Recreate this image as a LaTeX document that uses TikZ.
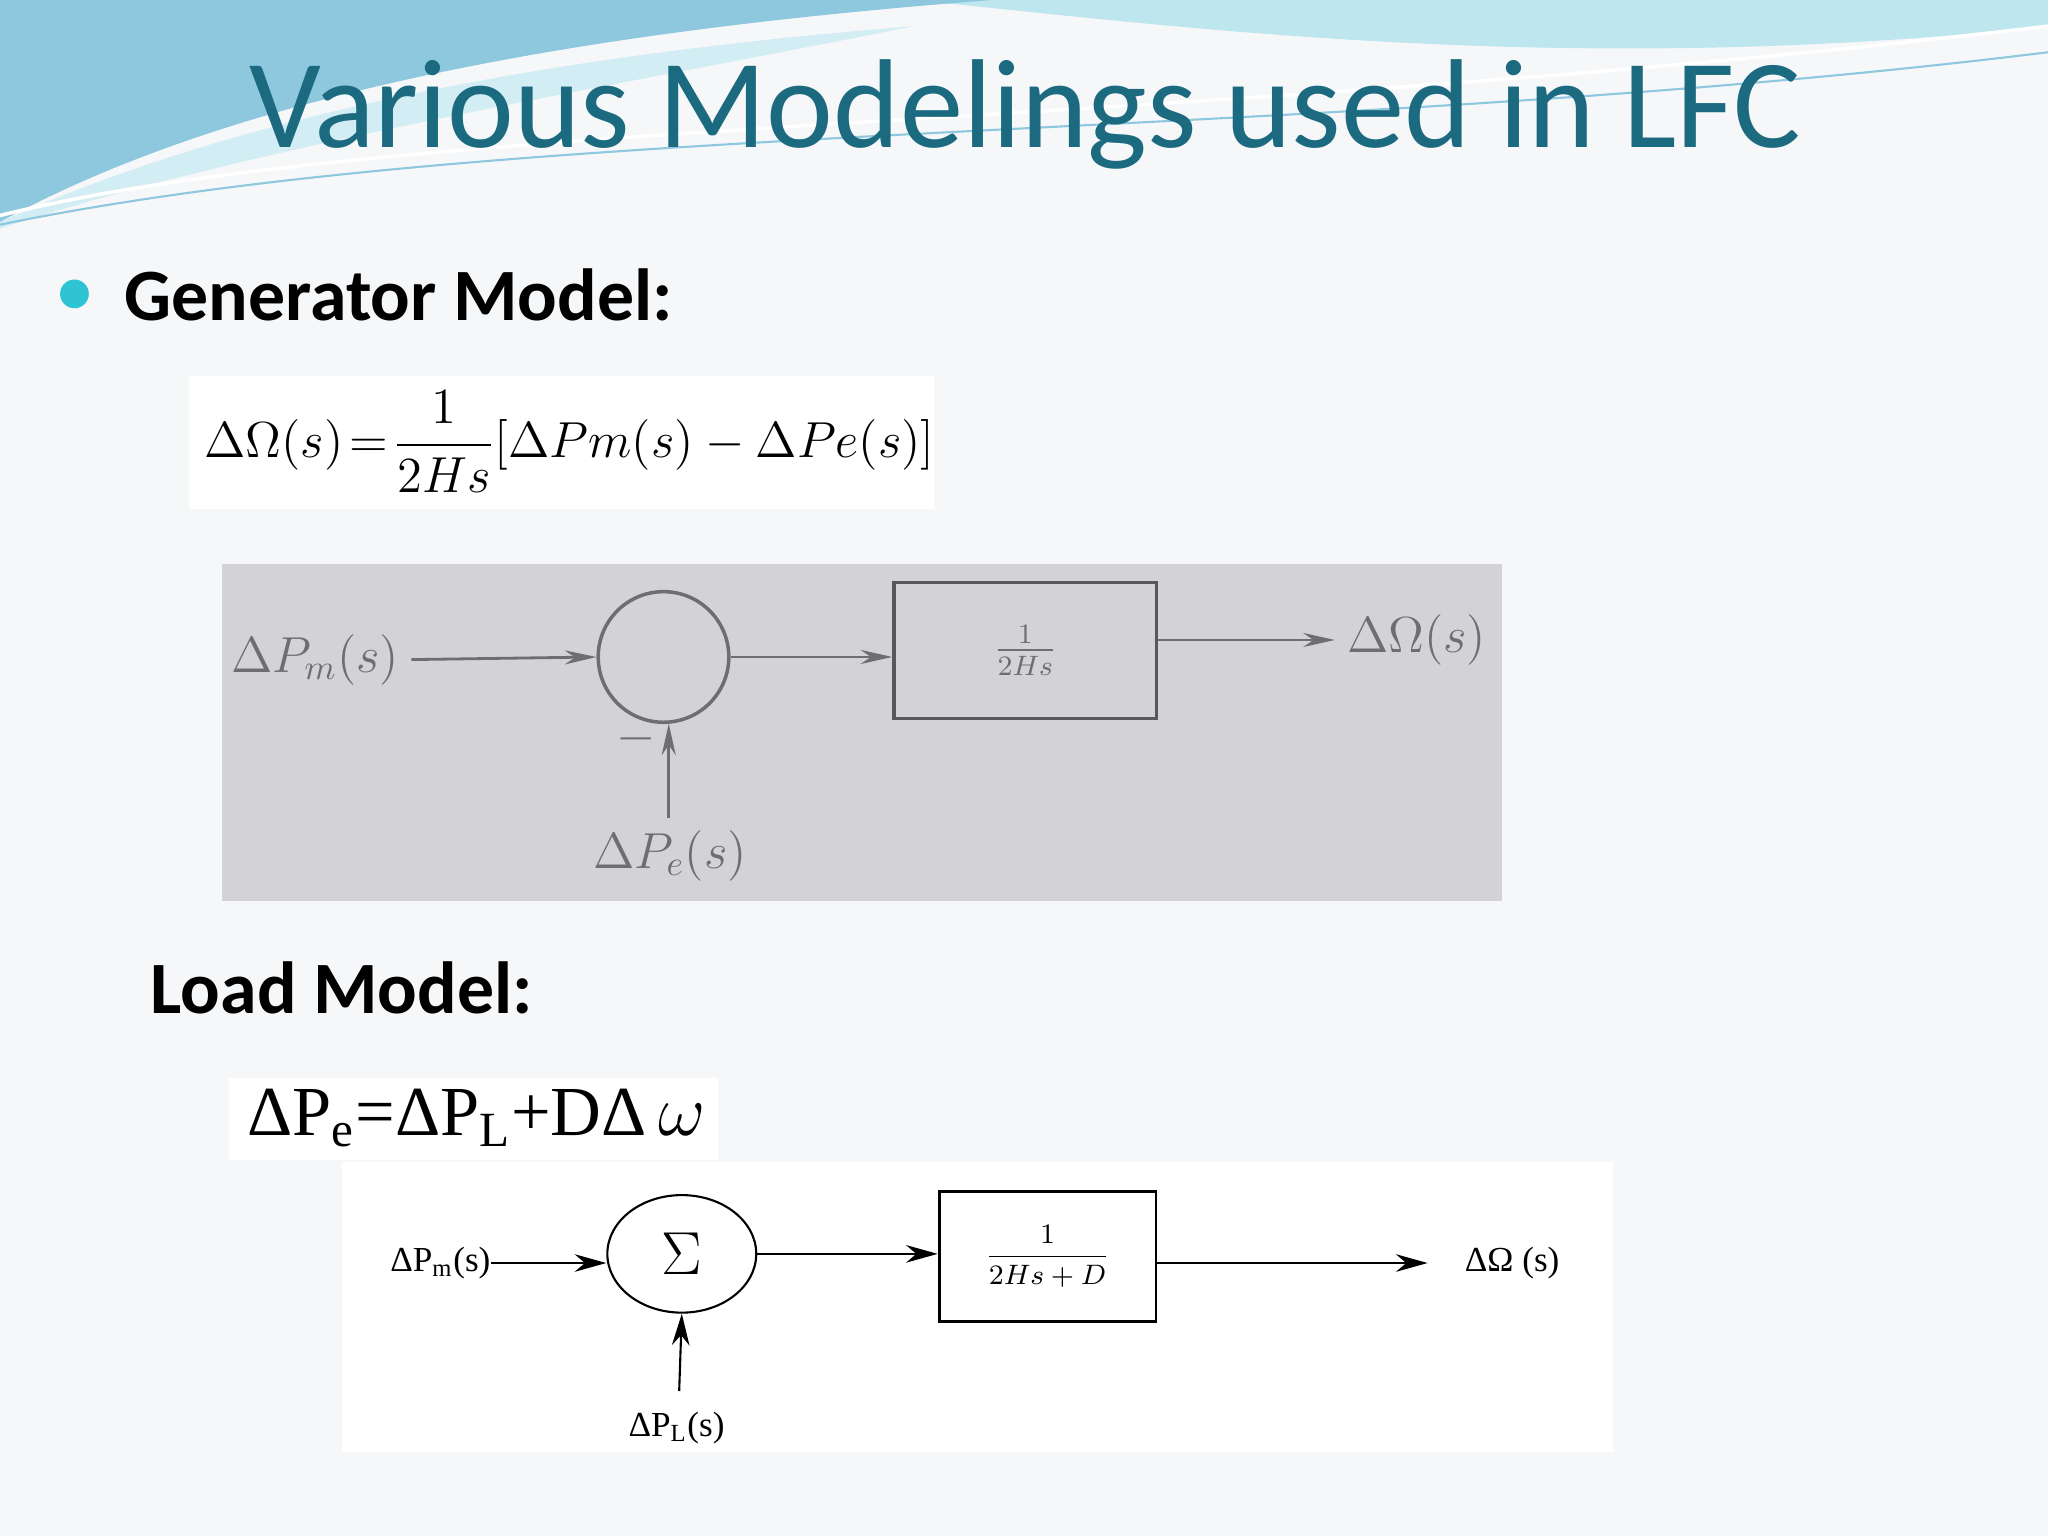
\documentclass[tikz,border=0pt]{standalone}
\usepackage{amsmath}
\usepackage{fontspec}
\setmainfont{Carlito}
\newfontfamily\tnr{Liberation Serif}
\usetikzlibrary{arrows.meta,shapes.geometric}
\definecolor{bg}{HTML}{F6F7F9}
\definecolor{titlec}{HTML}{1B6A80}
\definecolor{wave1}{HTML}{8EC8DE}
\definecolor{wave2}{HTML}{BEE6EE}
\definecolor{graybox}{HTML}{D3D3D5}
\definecolor{graytxt}{HTML}{6E6E70}
\definecolor{bullet}{HTML}{2EC4D4}
\begin{document}
\begin{tikzpicture}[x=0.013061cm,y=-0.013061cm,
  arr/.style={-{Stealth[length=9pt,width=5pt]},line width=0.6pt},
  arrg/.style={-{Stealth[length=9pt,width=4pt]},line width=0.8pt,draw=graytxt},
  gtxt/.style={text=graytxt,font=\fontsize{14}{16}\selectfont},
  btxt/.style={font=\tnr\fontsize{10}{12}\selectfont}]
\useasboundingbox (0,0) rectangle (1568,1176);
\fill[bg] (0,0) rectangle (1568,1176);
% top wave
\fill[wave2] (0,0) -- (1568,0) -- (1568,20) .. controls (1200,60) and (900,20) .. (700,0) -- cycle;
\fill[wave1] (0,0) -- (760,0) .. controls (500,20) and (200,60) .. (0,170) -- cycle;
\fill[wave2!70!white] (0,170) .. controls (200,80) and (450,40) .. (700,20) .. controls (450,70) and (200,110) .. (0,175) -- cycle;
\draw[white,line width=1pt] (0,165) .. controls (300,90) and (900,100) .. (1568,20);
\draw[wave1,line width=0.6pt] (0,172) .. controls (400,90) and (1000,110) .. (1568,40);
\node[text=titlec,font=\fontsize{36}{40}\selectfont] (title) at (785,88) {Various Modelings used in LFC};
\fill[bullet] (57,225) circle (11);
\node[anchor=west,font=\bfseries\fontsize{21}{24}\selectfont] (gen) at (86,226) {Generator Model:};
% equation 1
\fill[white] (145,288) rectangle (715,390);
\node[font=\fontsize{14}{16}\selectfont] (eq1) at (436,338) {$\Delta\Omega(s)\!=\!\dfrac{1}{2Hs}[\Delta Pm(s)-\Delta Pe(s)]$};
% diagram 1
\fill[graybox] (170,432) rectangle (1150,690);
\node[draw=graytxt,circle,minimum size=100*0.013061cm,line width=1pt] (c1) at (508,503) {};
\node[draw=graytxt!80!black,rectangle,minimum width=201*0.013061cm,minimum height=104*0.013061cm,line width=1pt,text=graytxt] (b1) at (785,498) {\fontsize{12}{13}\selectfont$\frac{1}{2Hs}$};
\node[gtxt,anchor=east] (pm1) at (315,505) {$\Delta P_m(s)$};
\node[gtxt,anchor=west] (om1) at (1022,490) {$\Delta\Omega(s)$};
\node[gtxt] (pe1) at (513,655) {$\Delta P_e(s)$};
\node[gtxt] (minus) at (487,566) {$-$};
\draw[arrg] (pm1.east) -- (c1.west);
\draw[arrg] (c1.east) -- (b1.west|-c1.east);
\draw[arrg] (b1.east|-om1.west) -- (om1.west);
\draw[arrg] (pe1.north-|512,0) -- (512,554);
\node[anchor=west,font=\bfseries\fontsize{21}{24}\selectfont] (load) at (106,756) {Load Model:};
% equation 2
\fill[white] (175,825) rectangle (550,888);
\node[font=\tnr\fontsize{20}{24}\selectfont,anchor=west] (eq2) at (180,856) {ΔP\textsubscript{e}=ΔP\textsubscript{L}+DΔ\,$\omega$};
% diagram 2
\fill[white] (262,890) rectangle (1235,1112);
\node[draw,ellipse,minimum width=114*0.013061cm,minimum height=90*0.013061cm,line width=0.6pt,font=\fontsize{16}{20}\selectfont] (c2) at (522,960) {$\Sigma$};
\node[draw,rectangle,minimum width=166*0.013061cm,minimum height=99*0.013061cm,line width=0.8pt] (b2) at (802,962) {\fontsize{8}{10}\selectfont$\dfrac{1}{2Hs+D}$};
\node[btxt,anchor=east,inner sep=0pt] (pm2) at (376,967) {ΔP\textsubscript{m}(s)};
\node[btxt,anchor=west] (om2) at (1112,967) {ΔΩ (s)};
\node[btxt] (pl2) at (518,1093) {ΔP\textsubscript{L}(s)};
\draw[arr] (pm2.east) -- (c2.west|-pm2.east) ;
\draw[arr] (c2.east) -- (b2.west|-c2.east);
\draw[arr] (b2.east|-om2.west) -- (1093,967);
\draw[arr] (520,1065) -- (c2.south);
\end{tikzpicture}
\end{document}
